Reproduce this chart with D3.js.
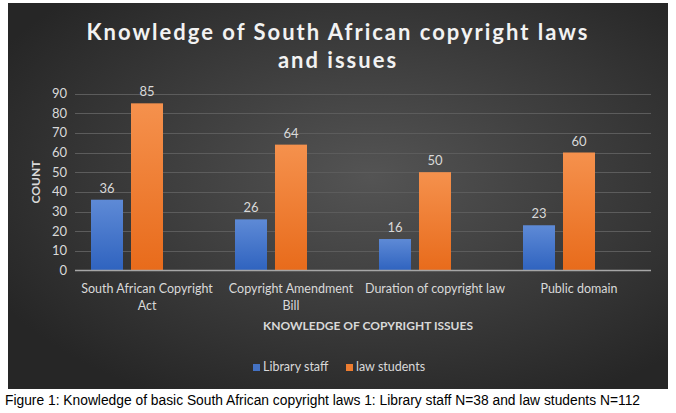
<!DOCTYPE html>
<html><head><meta charset="utf-8">
<script src="https://cdn.jsdelivr.net/npm/d3@7"></script>
<style>body{margin:0;background:#fff}svg{display:block}</style>
</head><body>
<svg id="c" width="676" height="413"></svg>
<script>
const categories = [["South African Copyright","Act"],["Copyright Amendment","Bill"],["Duration of copyright law"],["Public domain"]];
const seriesNames = ["Library staff","law students"];
const libraryStaff = [36,26,16,23];
const lawStudents = [85,64,50,60];
const yTicks = [0,10,20,30,40,50,60,70,80,90];
const titleLines = ["Knowledge of South African copyright laws","and issues"];
const caption = "Figure 1: Knowledge of basic South African copyright laws 1: Library staff N=38 and law students N=112";

const svg = d3.select("#c");
const defs = svg.append("defs");
const bg = defs.append("radialGradient").attr("id","bg").attr("cx","55%").attr("cy","45%").attr("r","65%");
bg.append("stop").attr("offset","0%").attr("stop-color","#545454");
bg.append("stop").attr("offset","100%").attr("stop-color","#262626");
const gb = defs.append("linearGradient").attr("id","gBlue").attr("x1",0).attr("y1",0).attr("x2",0).attr("y2",1);
gb.append("stop").attr("offset","0%").attr("stop-color","#5e8ad6");
gb.append("stop").attr("offset","100%").attr("stop-color","#2f63bf");
const go = defs.append("linearGradient").attr("id","gOrange").attr("x1",0).attr("y1",0).attr("x2",0).attr("y2",1);
go.append("stop").attr("offset","0%").attr("stop-color","#f5914d");
go.append("stop").attr("offset","100%").attr("stop-color","#e86b1b");

svg.append("rect").attr("x",8).attr("y",3).attr("width",660).attr("height",386).attr("fill","url(#bg)");

const font = "Lato, 'Open Sans', sans-serif";
const txt = "#d9d9d9";

// title
svg.selectAll("text.title").data(titleLines).enter().append("text")
  .attr("class","title").attr("x",338).attr("y",(d,i)=>40+i*28)
  .attr("text-anchor","middle").attr("fill","#f2f2f2")
  .attr("font-family",font).attr("font-weight","bold").attr("font-size",22)
  .attr("letter-spacing",2)
  .text(d=>d);

const x0 = d3.scaleBand().domain(d3.range(categories.length)).range([75,651]).paddingInner(0).paddingOuter(0);
const slots = 3; // Excel keeps room for a third (empty) series
const y = d3.scaleLinear().domain([0,90]).range([270.5,93.5]);

// gridlines
svg.append("g").selectAll("line").data(yTicks.filter(t=>t>0)).enter().append("line")
  .attr("x1",75).attr("x2",651).attr("y1",d=>Math.round(y(d))+0.5).attr("y2",d=>Math.round(y(d))+0.5)
  .attr("stroke","#5c5c5c").attr("stroke-width",1);

// y tick labels
svg.append("g").selectAll("text").data(yTicks).enter().append("text")
  .attr("x",67).attr("y",d=>y(d)+4.5).attr("text-anchor","end")
  .attr("fill",txt).attr("font-family",font).attr("font-size",13).text(d=>d);

// bars
const barW = 32, gap = 8, pad = (x0.bandwidth() - slots*barW - (slots-1)*gap)/2;
const series = [libraryStaff, lawStudents];
const fills = ["url(#gBlue)","url(#gOrange)"];
series.forEach((vals,s)=>{
  const g = svg.append("g");
  g.selectAll("rect").data(vals).enter().append("rect")
    .attr("x",(d,i)=>x0(i)+pad+s*(barW+gap)).attr("width",barW)
    .attr("y",d=>y(d)).attr("height",d=>y(0)-y(d))
    .attr("fill",fills[s]);
  g.selectAll("text").data(vals).enter().append("text")
    .attr("x",(d,i)=>x0(i)+pad+s*(barW+gap)+barW/2).attr("y",d=>y(d)-7)
    .attr("text-anchor","middle").attr("fill",txt).attr("font-family",font).attr("font-size",13)
    .text(d=>d);
});

// x axis line
svg.append("line").attr("x1",75).attr("x2",651).attr("y1",270.5).attr("y2",270.5)
  .attr("stroke","#a6a6a6").attr("stroke-width",1.3);

// category labels
const cg = svg.append("g").selectAll("text").data(categories).enter().append("text")
  .attr("x",(d,i)=>x0(i)+x0.bandwidth()/2).attr("y",293)
  .attr("text-anchor","middle").attr("fill",txt).attr("font-family",font).attr("font-size",12.5);
cg.selectAll("tspan").data(d=>d).enter().append("tspan")
  .attr("x",function(){return d3.select(this.parentNode).attr("x");})
  .attr("dy",(d,i)=>i===0?0:17).text(d=>d);

// axis titles
svg.append("text").attr("x",368).attr("y",330).attr("text-anchor","middle")
  .attr("fill",txt).attr("font-family",font).attr("font-weight","bold").attr("font-size",12)
  .text("KNOWLEDGE OF COPYRIGHT ISSUES");
svg.append("text").attr("transform","translate(40,182) rotate(-90)").attr("text-anchor","middle")
  .attr("fill",txt).attr("font-family",font).attr("font-weight","bold").attr("font-size",12)
  .text("COUNT");

// legend
const legX = [253, 346];
const legColors = ["#4472c4","#ed7d31"];
seriesNames.forEach((n,i)=>{
  svg.append("rect").attr("x",legX[i]).attr("y",364).attr("width",7).attr("height",7).attr("fill",legColors[i]);
  svg.append("text").attr("x",legX[i]+10).attr("y",371).attr("fill",txt)
    .attr("font-family",font).attr("font-size",12.5).text(n);
});

// caption
svg.append("text").attr("x",5).attr("y",405).attr("fill","#000")
  .attr("font-family","'Liberation Sans', Arial, sans-serif").attr("font-size",14)
  .attr("textLength",635).attr("lengthAdjust","spacingAndGlyphs").text(caption);
</script>
</body></html>
